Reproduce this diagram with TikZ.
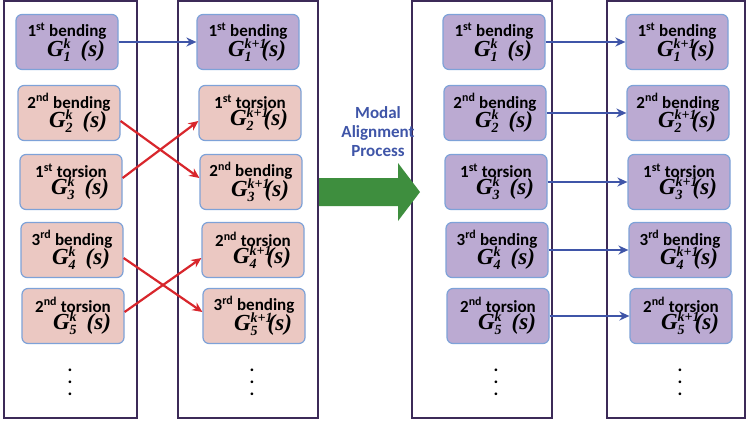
\documentclass[tikz,border=0pt]{standalone}
\usepackage{fontspec}
\setmainfont{Carlito}
\newfontfamily\mathf{Liberation Serif}
\usetikzlibrary{arrows.meta}
\definecolor{pur}{HTML}{BBAAD2}
\definecolor{pnk}{HTML}{EBC8C2}
\definecolor{bd}{HTML}{7EA2D8}
\definecolor{frm}{HTML}{3C2A58}
\definecolor{ablue}{HTML}{3F55A8}
\definecolor{ared}{HTML}{D8262C}
\definecolor{grn}{HTML}{3E8E3E}
\newcommand\Gm[2]{{\mathf\bfseries\itshape\fontsize{23}{23}\selectfont G\rlap{\raisebox{8pt}{\fontsize{14}{14}\selectfont #1}}\raisebox{-5pt}{\fontsize{14}{14}\selectfont #2}\ifx1#1\else\hspace{10pt}\fi(s)}}
\newcommand\Sp[1]{\textsuperscript{#1}}
\begin{document}
\begin{tikzpicture}[x=1pt,y=-1pt,
  frame/.style={draw=frm,line width=2.5pt},
  box/.style={draw=bd,line width=1.2pt,rounded corners=6pt,minimum width=102pt,minimum height=55pt,inner sep=0pt,align=center,font=\bfseries\fontsize{17}{19}\selectfont},
  P/.style={box,fill=pur},R/.style={box,fill=pnk},
  ba/.style={-{Stealth[length=10pt,width=9pt]},ablue,line width=2.2pt},
  ra/.style={-{Stealth[length=10pt,width=9pt]},ared,line width=2.2pt},
  dots/.style={font=\bfseries\fontsize{18}{12}\selectfont,align=center}]
\useasboundingbox (0,0) rectangle (748,421);
\fill[white] (0,0) rectangle (748,421);
\draw[frame] (4,1) rectangle (137,418);
\draw[frame] (178,1) rectangle (318,418);
\draw[frame] (412,1) rectangle (552,418);
\draw[frame] (607,1) rectangle (745,418);
% column 1
\node[P] (a1) at (67,42) {1\Sp{st} bending\\[-2pt]\hspace*{18pt}\Gm{k}{1}};
\node[R] (a2) at (69,113) {2\Sp{nd} bending\\[-2pt]\hspace*{18pt}\Gm{k}{2}};
\node[R] (a3) at (71,182) {1\Sp{st} torsion\\[-2pt]\hspace*{18pt}\Gm{k}{3}};
\node[R] (a4) at (72,250) {3\Sp{rd} bending\\[-2pt]\hspace*{18pt}\Gm{k}{4}};
\node[R] (a5) at (73,316) {2\Sp{nd} torsion\\[-2pt]\hspace*{18pt}\Gm{k}{5}};
\node[dots] (ad) at (70,382) {.\\.\\.};
% column 2
\node[P] (b1) at (248,42) {1\Sp{st} bending\\[-2pt]\hspace*{18pt}\Gm{k+1}{1}};
\node[R] (b2) at (250,113) {1\Sp{st} torsion\\[-2pt]\hspace*{18pt}\Gm{k+1}{2}};
\node[R] (b3) at (251,182) {2\Sp{nd} bending\\[-2pt]\hspace*{18pt}\Gm{k+1}{3}};
\node[R] (b4) at (253,250) {2\Sp{nd} torsion\\[-2pt]\hspace*{18pt}\Gm{k+1}{4}};
\node[R] (b5) at (254,316) {3\Sp{rd} bending\\[-2pt]\hspace*{18pt}\Gm{k+1}{5}};
\node[dots] (bd) at (252,382) {.\\.\\.};
% column 3
\node[P] (c1) at (494,42) {1\Sp{st} bending\\[-2pt]\hspace*{18pt}\Gm{k}{1}};
\node[P] (c2) at (495,113) {2\Sp{nd} bending\\[-2pt]\hspace*{18pt}\Gm{k}{2}};
\node[P] (c3) at (496,182) {1\Sp{st} torsion\\[-2pt]\hspace*{18pt}\Gm{k}{3}};
\node[P] (c4) at (497,250) {3\Sp{rd} bending\\[-2pt]\hspace*{18pt}\Gm{k}{4}};
\node[P] (c5) at (498,316) {2\Sp{nd} torsion\\[-2pt]\hspace*{18pt}\Gm{k}{5}};
\node[dots] (cd) at (496,382) {.\\.\\.};
% column 4
\node[P] (d1) at (677,42) {1\Sp{st} bending\\[-2pt]\hspace*{18pt}\Gm{k+1}{1}};
\node[P] (d2) at (678,113) {2\Sp{nd} bending\\[-2pt]\hspace*{18pt}\Gm{k+1}{2}};
\node[P] (d3) at (679,182) {1\Sp{st} torsion\\[-2pt]\hspace*{18pt}\Gm{k+1}{3}};
\node[P] (d4) at (680,250) {3\Sp{rd} bending\\[-2pt]\hspace*{18pt}\Gm{k+1}{4}};
\node[P] (d5) at (681,316) {2\Sp{nd} torsion\\[-2pt]\hspace*{18pt}\Gm{k+1}{5}};
\node[dots] (dd) at (680,382) {.\\.\\.};
% arrows
\draw[ba] (a1.east) -- (b1.west);
\draw[ra] ([yshift=-8pt]a2.east) -- ([yshift=4pt]b3.west);
\draw[ra] ([yshift=4pt]a3.east) -- ([yshift=-8pt]b2.west);
\draw[ra] ([yshift=-8pt]a4.east) -- ([yshift=4pt]b5.west);
\draw[ra] ([yshift=4pt]a5.east) -- ([yshift=-8pt]b4.west);
\foreach \i in {1,...,5}{\draw[ba] (c\i.east) -- (d\i.west);}
% big arrow
\fill[grn] (319,178) -- (398,178) -- (398,163) -- (420,192) -- (398,221) -- (398,206) -- (319,206) -- cycle;
\node[font=\bfseries\fontsize{17}{19}\selectfont,text=ablue,align=center] (t) at (378,132) {Modal\\Alignment\\Process};
\end{tikzpicture}
\end{document}
